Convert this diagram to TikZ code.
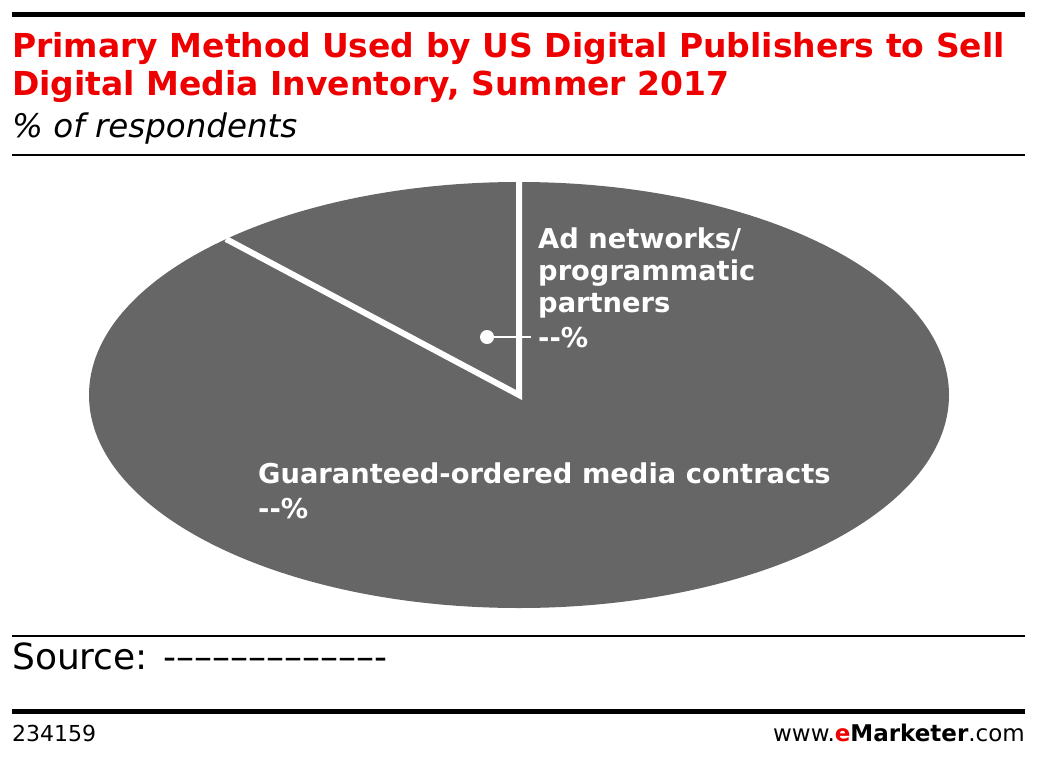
\documentclass[tikz,border=0pt]{standalone}
\usepackage{fontspec}
\setmainfont[Ligatures=NoCommon]{DejaVu Sans}
\definecolor{titlered}{HTML}{EE0000}
\definecolor{piegray}{HTML}{666666}
\newcommand{\dd}{-{}-}
\begin{document}
\begin{tikzpicture}[x=1pt,y=-1pt,
  title/.style={anchor=base west,inner sep=0,font=\bfseries\fontsize{33}{36}\selectfont,text=titlered},
  lbl/.style={anchor=base west,inner sep=0,font=\bfseries\fontsize{27.3}{30}\selectfont,text=white},
  rule/.style={line width=#1}]
\useasboundingbox (0,0) rectangle (1038,760);
\draw[rule=5pt] (12,15) -- (1025,15);
\node[title] (t1) at (12,58) {Primary Method Used by US Digital Publishers to Sell};
\node[title] (t2) at (12,95) {Digital Media Inventory, Summer 2017};
\node[anchor=base west,inner sep=0,font=\itshape\fontsize{32.5}{35}\selectfont] (st) at (12,137) {\% of respondents};
\draw[rule=1.5pt] (12,155) -- (1025,155);
\fill[piegray] (519,395) ellipse [x radius=430, y radius=213];
\coordinate (c) at (519,395);
\coordinate (top) at (519,182);
\coordinate (lft) at (226,239);
\draw[white,line width=6pt] (top) -- (c) -- (lft);
\fill[white] (487,337) circle (7);
\coordinate (dot) at (487,337);
\coordinate (dend) at (531,337);
\draw[white,line width=2.5pt] (dot) -- (dend);
\node[lbl] (a1) at (538,248) {Ad networks/};
\node[lbl] (a2) at (538,280) {programmatic};
\node[lbl] (a3) at (538,312) {partners};
\node[lbl] (a4) at (538,347) {\dd\%};
\node[lbl] (g1) at (258,483) {Guaranteed-ordered media contracts};
\node[lbl] (g2) at (258,518) {\dd\%};
\draw[rule=1.5pt] (12,636) -- (1025,636);
\node[anchor=base west,inner sep=0,font=\fontsize{36}{38}\selectfont] (src) at (12,669) {Source: \dd\dd\dd\dd\dd\dd\dd\dd\dd\dd\dd\dd};
\draw[rule=5pt] (12,711) -- (1025,711);
\node[anchor=base west,inner sep=0,font=\fontsize{22}{24}\selectfont] (id) at (12,741) {234159};
\node[anchor=base east,inner sep=0,font=\fontsize{23}{25}\selectfont] (www) at (1025,741) {www.{\bfseries\textcolor{titlered}{e}Marketer}.com};
\end{tikzpicture}
\end{document}
